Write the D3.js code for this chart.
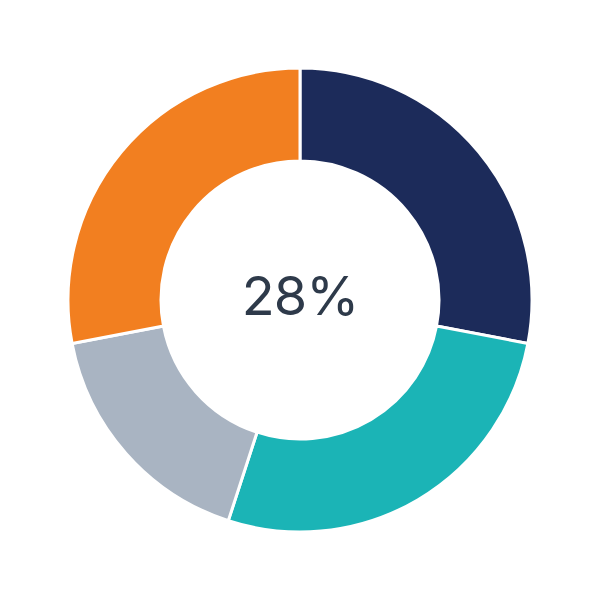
<!DOCTYPE html>
<html>
<head>
<meta charset="utf-8">
<script src="https://cdn.jsdelivr.net/npm/d3@7"></script>
<style>
  body { margin: 0; background: #fff; }
</style>
</head>
<body>
<div id="chart"></div>
<script>
// Slice data
const labels = ['A', 'B', 'C', 'D'];
const values = [28, 27, 17, 28];
const colors = ['#1c2b5a', '#1bb4b6', '#a9b4c2', '#f27f20'];
const centerLabel = '28%';

const width = 600;
const height = 600;
const outerR = 232;
const innerR = 139;

const svg = d3
  .select('#chart')
  .append('svg')
  .attr('width', width)
  .attr('height', height)
  .append('g')
  .attr('transform', `translate(${width / 2},${height / 2})`);

const pie = d3.pie().sort(null).value(d => d);
const arc = d3.arc().innerRadius(innerR).outerRadius(outerR);

svg
  .selectAll('path')
  .data(pie(values))
  .enter()
  .append('path')
  .attr('d', arc)
  .attr('fill', (d, i) => colors[i])
  .attr('stroke', '#fff')
  .attr('stroke-width', 3);

// Center label
svg
  .append('text')
  .attr('x', 0)
  .attr('y', 15)
  .attr('text-anchor', 'middle')
  .attr('font-family', 'Inter, sans-serif')
  .attr('font-weight', 400)
  .attr('font-size', '54px')
  .attr('letter-spacing', '-1px')
  .attr('fill', '#2e3a4a')
  .text(centerLabel);
</script>
</body>
</html>
